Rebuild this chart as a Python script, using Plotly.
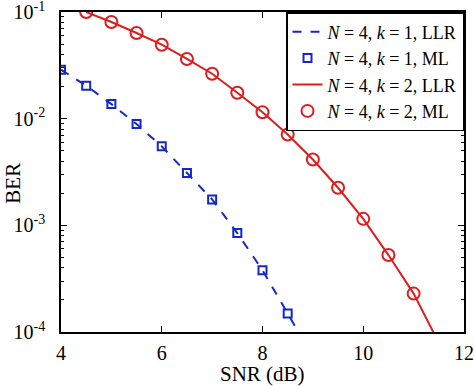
import plotly.graph_objects as go

snr_k1 = [4, 4.5, 5, 5.5, 6, 6.5, 7, 7.5, 8, 8.5]
ber_k1_ml = [0.0288, 0.0204, 0.0137, 0.0089, 0.0055, 0.0031, 0.00175, 0.000845, 0.000379, 0.000149]
snr_k1_llr = [4, 4.5, 5, 5.5, 6, 6.5, 7, 7.5, 8, 8.5, 9]
ber_k1_llr = [0.0288, 0.0204, 0.0137, 0.0089, 0.0055, 0.0031, 0.00175, 0.000845, 0.000379, 0.000149, 0.000058]

snr_k2 = [4.5, 5, 5.5, 6, 6.5, 7, 7.5, 8, 8.5, 9, 9.5, 10, 10.5, 11]
ber_k2_ml = [0.1, 0.0806, 0.0636, 0.0494, 0.0363, 0.0264, 0.0175, 0.0115, 0.0071, 0.00414, 0.00225, 0.00115, 0.000526, 0.000229]
snr_k2_llr = [4.5, 5, 5.5, 6, 6.5, 7, 7.5, 8, 8.5, 9, 9.5, 10, 10.5, 11, 11.5]
ber_k2_llr = [0.1, 0.0806, 0.0636, 0.0494, 0.0363, 0.0264, 0.0175, 0.0115, 0.0071, 0.00414, 0.00225, 0.00115, 0.000526, 0.000229, 0.000079]

x_ticks = [4, 6, 8, 10, 12]
y_tickvals = [1e-4, 1e-3, 1e-2, 1e-1]
y_ticktext = ["10<sup>-4</sup>", "10<sup>-3</sup>", "10<sup>-2</sup>", "10<sup>-1</sup>"]

blue = "#1428c8"
red = "#dc1e1e"
font = "Liberation Serif"
fs = 20

fig = go.Figure()
fig.add_trace(go.Scatter(x=snr_k1_llr, y=ber_k1_llr, mode="lines",
                         line=dict(color=blue, width=2, dash="dash"),
                         name="<i>N</i> = 4, <i>k</i> = 1, LLR"))
fig.add_trace(go.Scatter(x=snr_k1, y=ber_k1_ml, mode="markers",
                         marker=dict(symbol="square-open", size=8, color=blue, line=dict(width=2)),
                         name="<i>N</i> = 4, <i>k</i> = 1, ML"))
fig.add_trace(go.Scatter(x=snr_k2_llr, y=ber_k2_llr, mode="lines",
                         line=dict(color=red, width=2),
                         name="<i>N</i> = 4, <i>k</i> = 2, LLR"))
fig.add_trace(go.Scatter(x=snr_k2, y=ber_k2_ml, mode="markers",
                         marker=dict(symbol="circle-open", size=12, color=red, line=dict(width=2)),
                         name="<i>N</i> = 4, <i>k</i> = 2, ML"))

axis_common = dict(showline=True, linecolor="black", linewidth=1.5, mirror="allticks",
                   ticks="inside", tickcolor="black", ticklen=6, showgrid=False, zeroline=False,
                   ticklabeloverflow="allow", automargin=False,
                   tickfont=dict(family=font, size=fs, color="black"))

fig.update_xaxes(range=[4, 12], tickvals=x_ticks, ticklabelstandoff=2, **axis_common)
fig.update_yaxes(type="log", range=[-4.0005, -0.9995], tickvals=y_tickvals, ticktext=y_ticktext,
                 ticklabelstandoff=10,
                 minor=dict(ticks="inside", ticklen=3, tickcolor="black",
                            tickvals=[m * 10 ** e for e in (-4, -3, -2) for m in range(2, 10)]),
                 **axis_common)

fig.add_annotation(text="SNR (dB)", xref="paper", yref="paper", x=0.5, y=-0.13,
                   xanchor="center", yanchor="middle", showarrow=False,
                   font=dict(family=font, size=21, color="black"))
fig.add_annotation(text="BER", xref="paper", yref="paper", x=-0.118, y=0.465,
                   xanchor="center", yanchor="middle", showarrow=False, textangle=-90,
                   font=dict(family=font, size=21, color="black"))

fig.update_layout(width=474, height=386,
                  margin=dict(l=61, r=10, t=12, b=54, autoexpand=False),
                  plot_bgcolor="white", paper_bgcolor="white",
                  font=dict(family=font, size=fs, color="black"),
                  legend=dict(x=1, y=1, xanchor="right", yanchor="top",
                              bgcolor="white", bordercolor="black", borderwidth=1.5,
                              font=dict(family=font, size=18, color="black"),
                              tracegroupgap=0, itemwidth=30))

fig.write_html("out.html", config={"displayModeBar": False},
               post_script="document.body.style.margin='0';document.body.style.padding='0';")
